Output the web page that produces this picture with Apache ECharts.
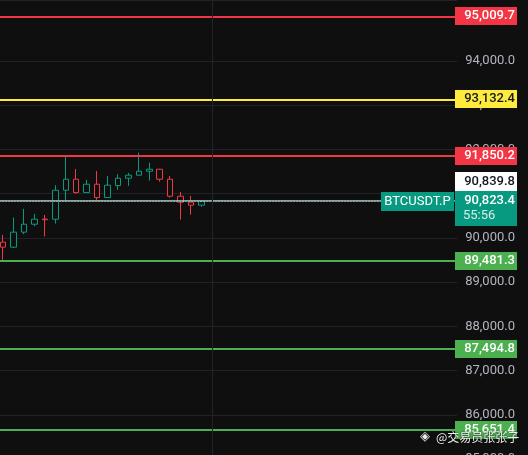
<!DOCTYPE html>
<html>
<head>
<meta charset="utf-8">
<script src="https://cdn.jsdelivr.net/npm/echarts@6/dist/echarts.min.js"></script>
<style>
html,body{margin:0;padding:0;background:#0f0f0f;}
#chart{width:528px;height:455px;}
</style>
</head>
<body>
<div id="chart"></div>
<script>
// 1h candles, oldest first
var times  = ['04:00','05:00','06:00','07:00','08:00','09:00','10:00','11:00','12:00','13:00',
              '14:00','15:00','16:00','17:00','18:00','19:00','20:00','21:00','22:00','23:00'];
var opens  = [89903, 89790, 90129, 90309, 90425, 90422, 91078, 91326, 91024, 91213,
              90911, 91182, 91349, 91417, 91507, 91552, 91326, 90942, 90807, 90739];
var closes = [89790, 90129, 90309, 90422, 90410, 91078, 91326, 91024, 91213, 90911,
              91191, 91349, 91417, 91507, 91552, 91326, 90942, 90807, 90739, 90823];
var lows   = [89503, 89767, 90083, 90264, 90029, 90323, 90852, 91001, 91015, 90859,
              90900, 91085, 91175, 91410, 91295, 91272, 90911, 90413, 90526, 90707];
var highs  = [90068, 90459, 90655, 90542, 90520, 91191, 91853, 91559, 91311, 91514,
              91401, 91439, 91469, 91928, 91702, 91560, 91401, 91039, 90949, 90830];

// drawn price levels
var levels      = [95009.7, 93132.4, 91850.2, 89481.3, 87494.8, 85651.4];
var levelColors = ['#f23645', '#ffeb3b', '#f23645', '#4caf50', '#4caf50', '#4caf50'];
var levelText   = ['#ffffff', '#131722', '#ffffff', '#ffffff', '#ffffff', '#ffffff'];

var markPrice = 90839.8;
var lastPrice = 90823.4;
var countdown = '55:56';
var symbol    = 'BTCUSDT.P';
var dayStart  = '00:00';

var futureSlots = 24;

var up = '#089981', down = '#f23645', bg = '#0f0f0f', gridColor = '#222326';

var cats = times.slice();
for (var i = 0; i < futureSlots; i++) {
  cats.push(('0' + i).slice(-2) + ':00');
}
var kdata = times.map(function (t, i) { return [opens[i], closes[i], lows[i], highs[i]]; });

function fmt(v) {
  return v.toLocaleString('en-US', { minimumFractionDigits: 1, maximumFractionDigits: 1 });
}

var chart = echarts.init(document.getElementById('chart'));
var font = 'Roboto, "Noto Sans", sans-serif';

var lineData = levels.map(function (v, i) {
  return { yAxis: v, lineStyle: { color: levelColors[i], width: 2, type: 'solid' } };
});
lineData.push({ yAxis: markPrice, lineStyle: { color: '#c9cbd1', width: 1.5, type: 'solid' } });
lineData.push({ yAxis: lastPrice, lineStyle: { color: up, width: 1, type: [1, 2] } });
lineData.push({ xAxis: dayStart, lineStyle: { color: gridColor, width: 1, type: 'solid' } });

chart.setOption({
  backgroundColor: bg,
  animation: false,
  grid: { left: -2, right: 71, top: 0, bottom: -4, outerBoundsMode: 'none', containLabel: false },
  xAxis: {
    type: 'category',
    data: cats,
    boundaryGap: true,
    axisLine: { show: false },
    axisTick: { show: false },
    axisLabel: { show: false },
    splitLine: { show: false }
  },
  yAxis: {
    type: 'value',
    position: 'right',
    min: 85000,
    max: 95378.5,
    interval: 1000,
    axisLine: { show: false },
    axisTick: { show: false },
    splitLine: { lineStyle: { color: gridColor, width: 1 } },
    axisLabel: {
      showMaxLabel: false,
      align: 'right',
      margin: 58,
      color: '#b2b5be',
      fontSize: 13,
      fontFamily: font,
      formatter: fmt
    }
  },
  series: [{
    type: 'candlestick',
    data: kdata,
    barWidth: 6,
    itemStyle: {
      color: bg,
      color0: bg,
      borderColor: up,
      borderColor0: down,
      borderWidth: 1
    },
    markLine: {
      silent: true,
      symbol: 'none',
      label: { show: false },
      emphasis: { disabled: true },
      data: lineData
    }
  }]
});

// price tags on the scale, placed through the axis
function py(v) { return chart.convertToPixel({ yAxisIndex: 0 }, v); }
var tagX = 455, tagW = 62, textX = 515;
var els = [];
function tag(y, h, fill, text, color) {
  els.push({ type: 'rect', z: 100, shape: { x: tagX, y: y, width: tagW, height: h }, style: { fill: fill } });
  els.push({ type: 'text', z: 101, x: textX, y: y + h / 2,
    style: { text: text, fill: color, font: '500 13px ' + font, align: 'right', verticalAlign: 'middle' } });
}
levels.forEach(function (v, i) {
  tag(Math.round(py(v)) - 9, 18, levelColors[i], fmt(v), levelText[i]);
});
var ly = py(lastPrice);
var tealTop = Math.round(ly) - 10;
tag(tealTop - 19, 19, '#ffffff', fmt(markPrice), '#131722');
els.push({ type: 'rect', z: 100, shape: { x: tagX, y: tealTop, width: tagW, height: 35 }, style: { fill: up } });
els.push({ type: 'text', z: 101, x: textX, y: tealTop + 10,
  style: { text: fmt(lastPrice), fill: '#ffffff', font: '500 13px ' + font, align: 'right', verticalAlign: 'middle' } });
els.push({ type: 'text', z: 101, x: tagX + 8, y: tealTop + 25,
  style: { text: countdown, fill: '#d5efe9', font: '13px ' + font, align: 'left', verticalAlign: 'middle' } });
// symbol label sitting left of the scale
els.push({ type: 'rect', z: 100, shape: { x: 381, y: Math.round(ly) - 9, width: 73, height: 19 }, style: { fill: up } });
els.push({ type: 'text', z: 101, x: 417.5, y: Math.round(ly) + 0.5,
  style: { text: symbol, fill: '#ffffff', font: '13px ' + font, align: 'center', verticalAlign: 'middle' } });
// watermark
els.push({ type: 'text', z: 120, x: 420, y: 437,
  style: { text: '◈', fill: '#e8e8e8', font: '13px "DejaVu Sans"', align: 'left', verticalAlign: 'middle',
           textShadowColor: '#000', textShadowBlur: 2 } });
els.push({ type: 'text', z: 120, x: 436, y: 437,
  style: { text: '@交易员张张子', fill: '#eeeeee', font: '12px "Noto Sans CJK SC"', align: 'left', verticalAlign: 'middle',
           textShadowColor: '#000', textShadowBlur: 2 } });

chart.setOption({ graphic: { elements: els } });
window.addEventListener('resize', function () { chart.resize(); });
</script>
</body>
</html>
